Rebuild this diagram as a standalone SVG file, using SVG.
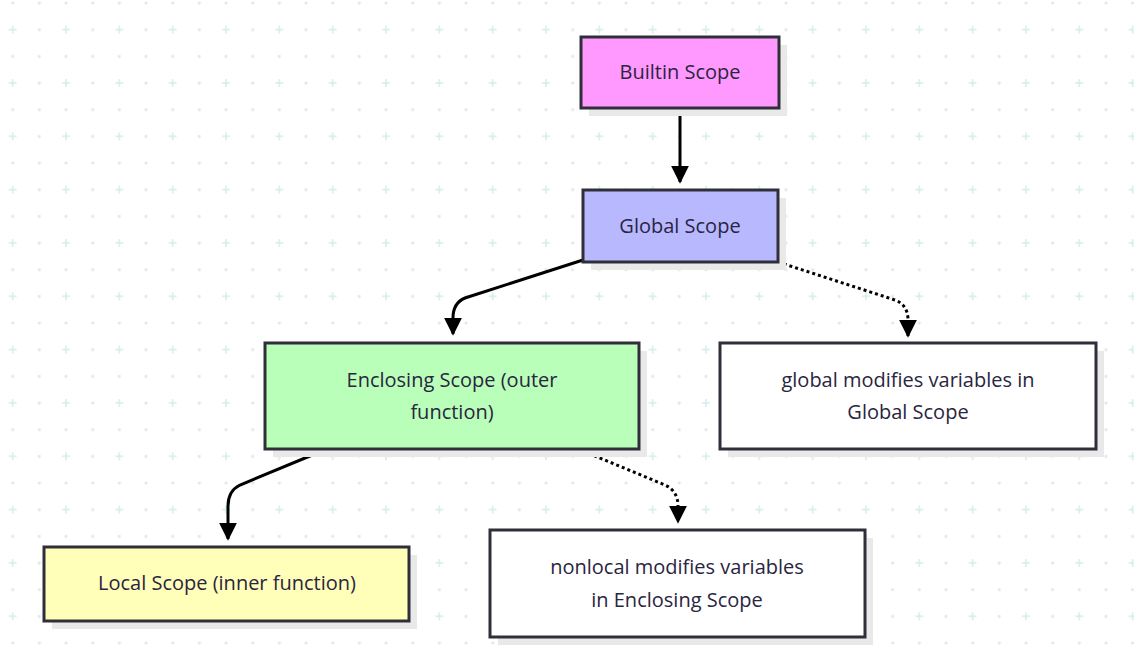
<svg xmlns="http://www.w3.org/2000/svg" width="1134" height="657" viewBox="0 0 1134 657">
<defs>
<pattern id="grid" x="-14" y="3" width="53.33" height="53.33" patternUnits="userSpaceOnUse">
<path d="M26.67 22.67v8M22.67 26.67h8" stroke="#d6ebec" stroke-width="1.5"/>
<circle cx="0" cy="26.67" r="1.6" fill="#d6ebec"/><circle cx="53.33" cy="26.67" r="1.6" fill="#d6ebec"/>
<circle cx="26.67" cy="0" r="1.6" fill="#d6ebec"/><circle cx="26.67" cy="53.33" r="1.6" fill="#d6ebec"/>
<circle cx="0" cy="0" r="1.6" fill="#d6ebec"/><circle cx="53.33" cy="0" r="1.6" fill="#d6ebec"/><circle cx="0" cy="53.33" r="1.6" fill="#d6ebec"/><circle cx="53.33" cy="53.33" r="1.6" fill="#d6ebec"/>
</pattern>
<marker id="ah" viewBox="0 0 10 10" refX="9" refY="5" markerWidth="6" markerHeight="6" orient="auto"><path d="M0 0L10 5L0 10z" fill="#000"/></marker>
</defs>
<style>
.box{stroke:#2f2f3a;stroke-width:3}
.sh{fill:#e9e9e9}
.t{font-family:"Open Sans","Noto Sans",sans-serif;font-size:20px;fill:#2a2540;text-anchor:middle}
.c{fill:none;stroke:#000;stroke-width:3}
.d{stroke-dasharray:3 3}
</style>
<rect width="1134" height="657" fill="#fff"/>
<rect width="1134" height="657" fill="url(#grid)"/>
<g id="connectors">
<path class="c" d="M680 108V182" marker-end="url(#ah)"/>
<path class="c" d="M583 260L465 298Q453 303 453 318V334" marker-end="url(#ah)"/>
<path class="c d" d="M778 262L895 300Q908 305 908 320V336" marker-end="url(#ah)"/>
<path class="c" d="M322 451L240 485Q228 491 228 506V539" marker-end="url(#ah)"/>
<path class="c d" d="M583 451L665 485Q678 491 678 506V522" marker-end="url(#ah)"/>
</g>
<g id="builtin"><rect class="sh" x="589" y="45" width="198" height="71"/><rect class="box" x="581" y="37" width="198" height="71" fill="#ff99ff"/><text class="t" x="680" y="79">Builtin Scope</text></g>
<g id="global"><rect class="sh" x="591" y="198" width="195" height="72"/><rect class="box" x="583" y="190" width="195" height="72" fill="#b8b8ff"/><text class="t" x="680" y="233">Global Scope</text></g>
<g id="enclosing"><rect class="sh" x="273" y="351" width="374" height="106"/><rect class="box" x="265" y="343" width="374" height="106" fill="#b9ffb9"/><text class="t" x="452" y="387">Enclosing Scope (outer</text><text class="t" x="452" y="419">function)</text></g>
<g id="globalnote"><rect class="sh" x="728" y="351" width="376" height="106"/><rect class="box" x="720" y="343" width="376" height="106" fill="#fff"/><text class="t" x="908" y="387">global modifies variables in</text><text class="t" x="908" y="419">Global Scope</text></g>
<g id="local"><rect class="sh" x="52" y="555" width="365" height="74"/><rect class="box" x="44" y="547" width="365" height="74" fill="#ffffba"/><text class="t" x="227" y="590">Local Scope (inner function)</text></g>
<g id="nonlocal"><rect class="sh" x="498" y="538" width="375" height="107"/><rect class="box" x="490" y="530" width="375" height="107" fill="#fff"/><text class="t" x="677" y="574">nonlocal modifies variables</text><text class="t" x="677" y="607">in Enclosing Scope</text></g>
</svg>
